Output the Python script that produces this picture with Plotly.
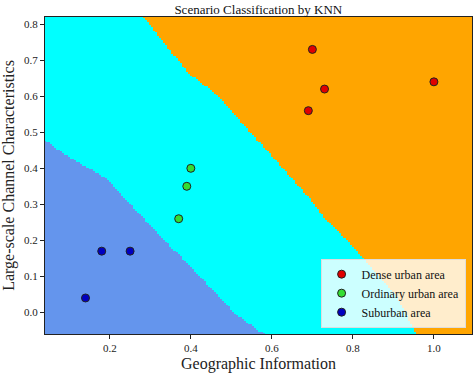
import numpy as np
import plotly.graph_objects as go

# Data
dense_x = [0.70, 0.73, 0.69, 1.00]
dense_y = [0.73, 0.62, 0.56, 0.64]
ordinary_x = [0.40, 0.39, 0.37]
ordinary_y = [0.40, 0.35, 0.26]
suburban_x = [0.14, 0.18, 0.25]
suburban_y = [0.04, 0.17, 0.17]
class_names = ["Dense urban area", "Ordinary urban area", "Suburban area"]
region_colors = ["#FFA500", "#00FFFF", "#6495ED"]
point_colors = ["#e00000", "#33dd33", "#0000c0"]
k_neighbors = 3
x_ticks = [0.2, 0.4, 0.6, 0.8, 1.0]
y_ticks = [0.0, 0.1, 0.2, 0.3, 0.4, 0.5, 0.6, 0.7, 0.8]

# KNN decision regions (k=3, uniform weights)
X = np.array(list(zip(dense_x + ordinary_x + suburban_x, dense_y + ordinary_y + suburban_y)))
labels = np.array([0] * len(dense_x) + [1] * len(ordinary_x) + [2] * len(suburban_x))
h = 0.005
x_min, x_max = X[:, 0].min() - 0.1, X[:, 0].max() + 0.1
y_min, y_max = X[:, 1].min() - 0.1, X[:, 1].max() + 0.1
gx = np.arange(x_min, x_max, h)
gy = np.arange(y_min, y_max, h)
XX, YY = np.meshgrid(gx, gy)
P = np.c_[XX.ravel(), YY.ravel()]
d = ((P[:, None, :] - X[None, :, :]) ** 2).sum(-1)
idx = np.argsort(d, axis=1, kind="stable")[:, :k_neighbors]
votes = np.zeros((P.shape[0], 3))
for j in range(k_neighbors):
    votes[np.arange(P.shape[0]), labels[idx[:, j]]] += 1
Z = votes.argmax(axis=1).reshape(XX.shape)

fig = go.Figure()
fig.add_trace(go.Heatmap(
    x=gx, y=gy, z=Z, zmin=0, zmax=2,
    colorscale=[[0, region_colors[0]], [0.333, region_colors[0]],
                [0.333, region_colors[1]], [0.667, region_colors[1]],
                [0.667, region_colors[2]], [1, region_colors[2]]],
    showscale=False, hoverinfo="skip"))

for name, xs, ys, c in [(class_names[0], dense_x, dense_y, point_colors[0]),
                        (class_names[1], ordinary_x, ordinary_y, point_colors[1]),
                        (class_names[2], suburban_x, suburban_y, point_colors[2])]:
    fig.add_trace(go.Scatter(x=xs, y=ys, mode="markers", name=name,
                             marker=dict(color=c, size=8, line=dict(color="#222222", width=1))))

serif = "Liberation Serif, Times New Roman, serif"
fig.update_layout(
    width=474, height=375,
    margin=dict(l=45, r=2, t=17, b=41),
    plot_bgcolor="white", paper_bgcolor="white",
    font=dict(family=serif, color="#222222", size=11),
    title=dict(text="Scenario Classification by KNN", x=0.545, xanchor="center",
               y=0.976, yanchor="middle", font=dict(size=13, family=serif, color="#111111")),
    xaxis=dict(range=[x_min, 1.094], tickvals=x_ticks, ticktext=[f"{v:.1f}" for v in x_ticks],
               ticks="outside", ticklen=4, tickcolor="#222222", showgrid=False, zeroline=False,
               showline=True, linecolor="#222222", linewidth=1.2, mirror=True,
               tickfont=dict(family=serif, size=11),
               title=dict(text="Geographic Information", font=dict(size=16, family=serif), standoff=4)),
    yaxis=dict(range=[y_min, 0.82], tickvals=y_ticks, ticktext=[f"{v:.1f}" for v in y_ticks],
               ticks="outside", ticklen=4, tickcolor="#222222", showgrid=False, zeroline=False,
               showline=True, linecolor="#222222", linewidth=1.2, mirror=True,
               tickfont=dict(family=serif, size=11),
               title=dict(text="Large-scale Channel Characteristics", font=dict(size=16, family=serif), standoff=6)),
    legend=dict(x=0.985, y=0.02, xanchor="right", yanchor="bottom",
                bgcolor="rgba(255,255,255,0.8)", bordercolor="#dddddd", borderwidth=1,
                font=dict(size=12, family=serif, color="#111111"), itemwidth=30,
                tracegroupgap=0),
)
fig.write_html("out.html")
